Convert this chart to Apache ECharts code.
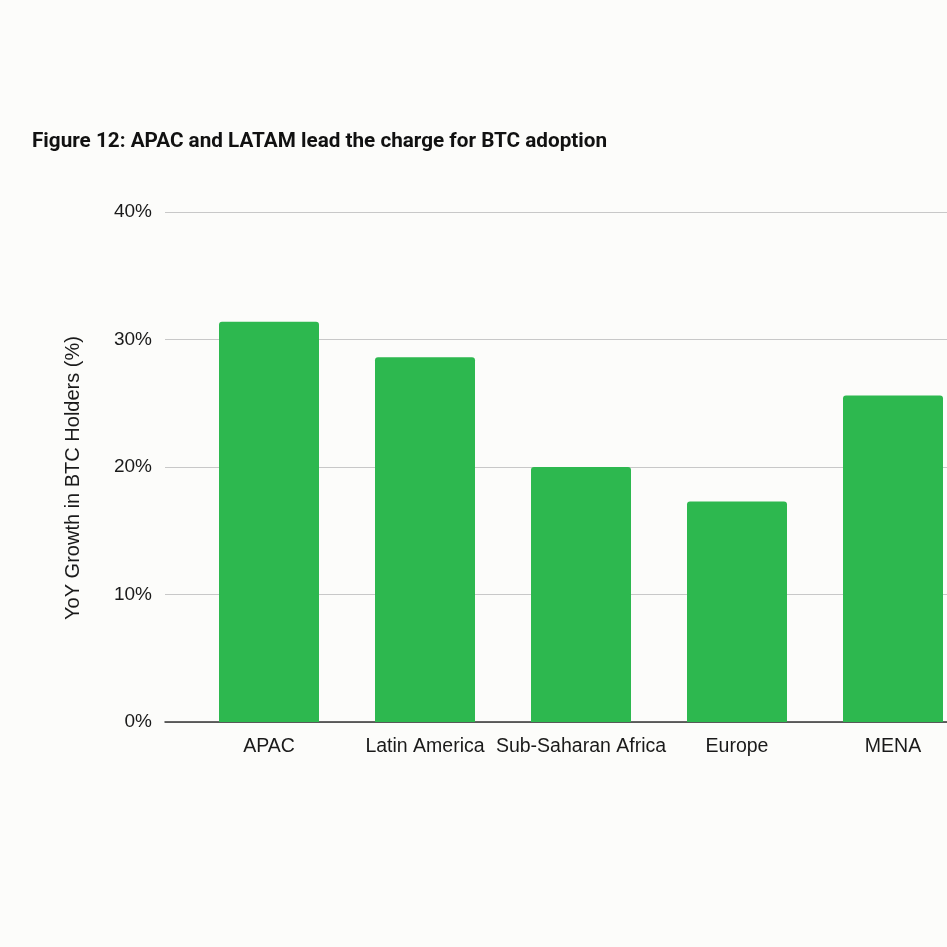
<!DOCTYPE html>
<html><head><meta charset="utf-8">
<script src="https://cdn.jsdelivr.net/npm/echarts@6/dist/echarts.min.js"></script>
<style>html,body{margin:0;padding:0;background:#fcfcfa;}#c{width:947px;height:947px;}</style>
</head><body><div id="c"></div>
<script>
const categories = ["APAC", "Latin America", "Sub-Saharan Africa", "Europe", "MENA"];
const growthValues = [31.4, 28.6, 20.0, 17.3, 25.6];
const yTicks = [0, 10, 20, 30, 40];

const chart = echarts.init(document.getElementById('c'));
chart.setOption({
  backgroundColor: '#fcfcfa',
  animation: false,
  title: {
    text: 'Figure 12: APAC and LATAM lead the charge for BTC adoption',
    left: 32, top: 131, padding: 0,
    textStyle: {fontFamily: 'Roboto', fontWeight: 'bold', fontSize: 20.7, color: '#111'}
  },
  grid: [
    {left: 165, width: 782, top: 212, bottom: 225, outerBoundsMode: 'none'},
    {left: 191, width: 780, top: 212, bottom: 225, outerBoundsMode: 'none'}
  ],
  xAxis: [
    {gridIndex: 0, type: 'value', min: 0, max: 1, show: true,
     axisLine: {show: true, onZero: false, lineStyle: {color: '#333', width: 1.5}},
     axisTick: {show: false}, axisLabel: {show: false}, splitLine: {show: false}},
    {gridIndex: 1, type: 'category', data: categories,
     axisLine: {show: false}, axisTick: {show: false},
     axisLabel: {fontFamily: 'Liberation Sans', fontSize: 19.5, color: '#1a1a1a', margin: 15, interval: 0}}
  ],
  yAxis: [
    {gridIndex: 0, type: 'value', min: yTicks[0], max: yTicks[yTicks.length - 1], interval: 10,
     name: 'YoY Growth in BTC Holders (%)', nameLocation: 'middle', nameGap: 82,
     nameTextStyle: {fontFamily: 'Liberation Sans', fontSize: 20, color: '#1a1a1a', padding: [0, 22, 0, 0]},
     axisLine: {show: false}, axisTick: {show: false},
     axisLabel: {formatter: '{value}%', fontFamily: 'Liberation Sans', fontSize: 19, color: '#1a1a1a', margin: 13},
     splitLine: {lineStyle: {color: '#c8c8c8', width: 1}}},
    {gridIndex: 1, type: 'value', min: 0, max: 40, show: false}
  ],
  series: [{
    type: 'bar', xAxisIndex: 1, yAxisIndex: 1,
    data: growthValues, barWidth: 100,
    itemStyle: {color: '#2db84f', borderRadius: [3, 3, 0, 0]}
  }]
});
</script></body></html>
